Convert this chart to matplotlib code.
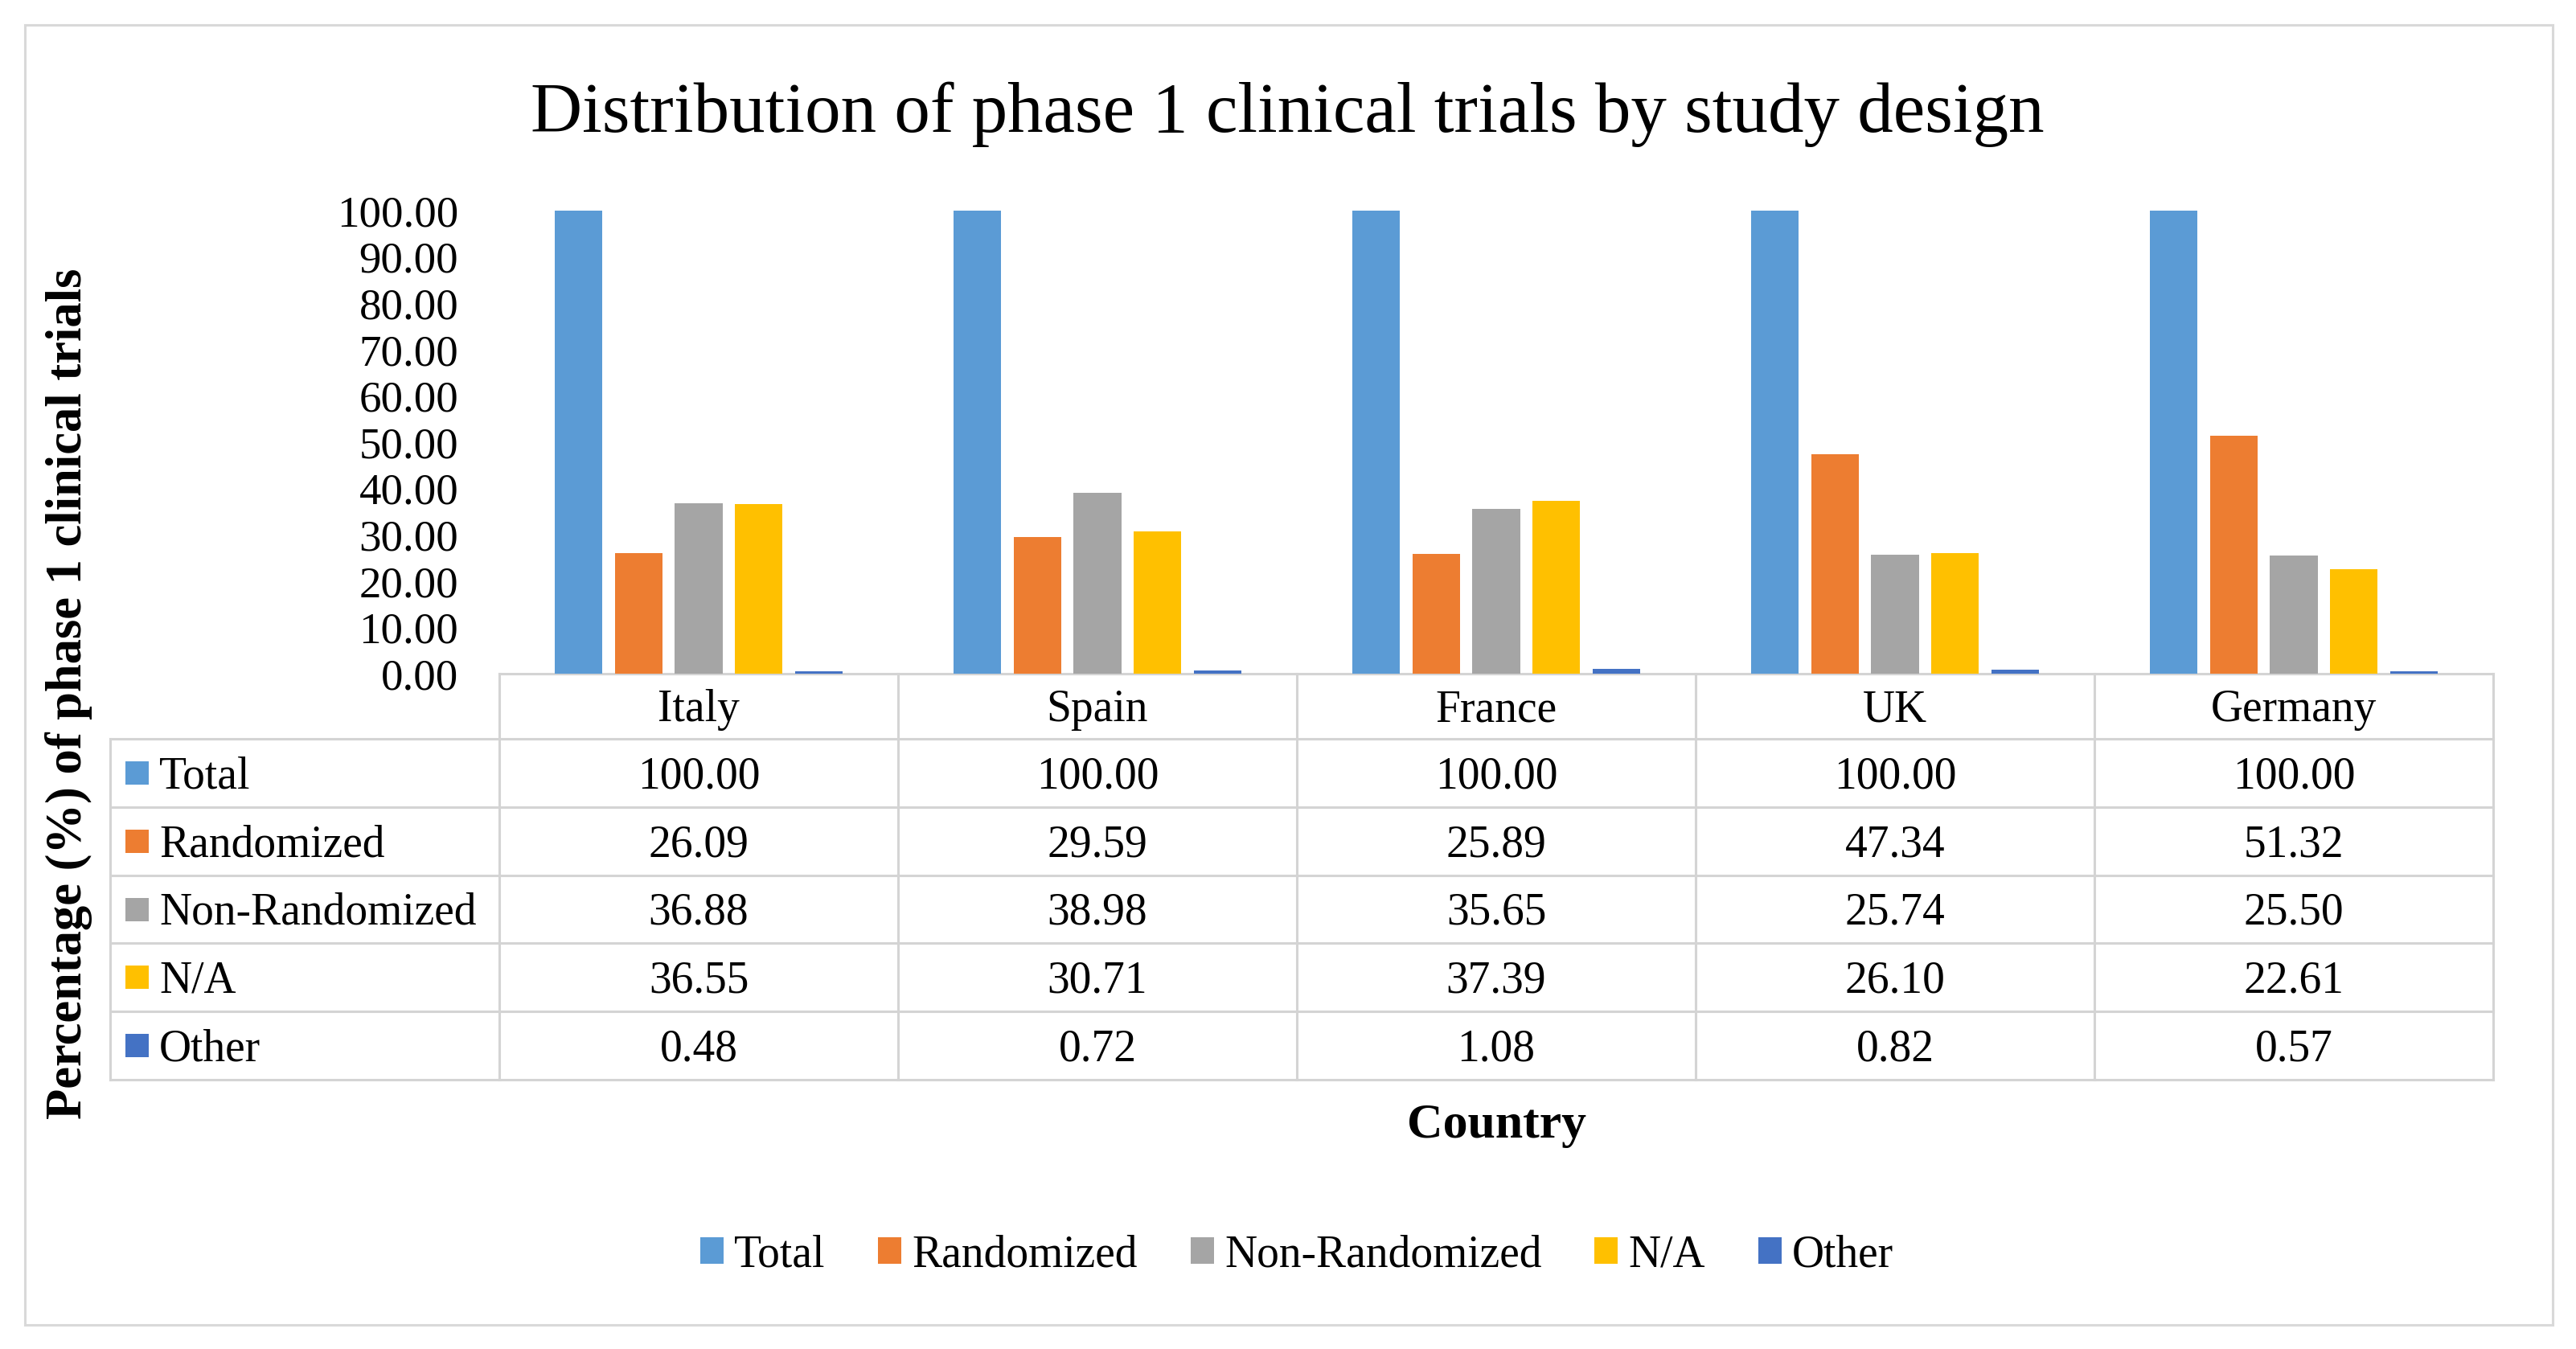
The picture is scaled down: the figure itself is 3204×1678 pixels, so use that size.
import numpy as np
import matplotlib
matplotlib.use("Agg")
import matplotlib.pyplot as plt
from matplotlib.patches import Rectangle

plt.rcParams['font.family'] = ['Liberation Serif', 'DejaVu Serif']

# data
countries = ["Italy", "Spain", "France", "UK", "Germany"]
series_names = ["Total", "Randomized", "Non-Randomized", "N/A", "Other"]
total = [100.00, 100.00, 100.00, 100.00, 100.00]
randomized = [26.09, 29.59, 25.89, 47.34, 51.32]
non_randomized = [36.88, 38.98, 35.65, 25.74, 25.50]
not_available = [36.55, 30.71, 37.39, 26.10, 22.61]
other = [0.48, 0.72, 1.08, 0.82, 0.57]
yticks = [0, 10, 20, 30, 40, 50, 60, 70, 80, 90, 100]

colors = ["#5B9BD5", "#ED7D31", "#A5A5A5", "#FFC000", "#4472C4"]
series = [total, randomized, non_randomized, not_available, other]

W, H = 3205, 1678
DPI = 100
fig = plt.figure(figsize=(W / DPI, H / DPI), dpi=DPI, facecolor="white")

# overlay in pixel coords (origin top-left) for border, table and labels
ov = fig.add_axes([0, 0, 1, 1], zorder=0)
ov.set_xlim(0, W)
ov.set_ylim(H, 0)
ov.axis("off")

# plot area in pixels
px_left, px_right, px_top, px_bottom = 621, 3101, 262, 838
ax = fig.add_axes([px_left / W, 1 - px_bottom / H,
                   (px_right - px_left) / W, (px_bottom - px_top) / H],
                  zorder=1)
ax.patch.set_alpha(0)

x = np.arange(len(countries))
bar_w = 0.119
step = 0.151
handles = []
for i, (name, vals) in enumerate(zip(series_names, series)):
    b = ax.bar(x + (i - 2) * step, vals, bar_w, color=colors[i], label=name)
    handles.append(b)

ax.set_xlim(-0.5, len(countries) - 0.5)
ax.set_ylim(0, 100)
ax.set_yticks(yticks)
ax.set_yticklabels([f"{v:.2f}" for v in yticks])
ax.set_xticks([])
ax.tick_params(axis="y", length=0, pad=36.5, labelsize=39.5)
for s in ax.spines.values():
    s.set_visible(False)

fs = 40
em = fs * DPI / 72
cap = 0.34 * em  # half the digit/cap height, to put text on row centres
grid_c = "#D4D4D4"
lw = 2.2

# outer chart border
ov.add_patch(Rectangle((31, 31), 3144, 1617, fill=False,
                       edgecolor="#D9D9D9", linewidth=2.2))

# title and axis titles
ov.text(1601, 164, "Distribution of phase 1 clinical trials by study design",
        ha="center", va="baseline", fontsize=64)
ov.text(86, 863, "Percentage (%) of phase 1 clinical trials", rotation=90,
        ha="center", va="center", fontsize=45, fontweight="bold")
ov.text(1862, 1415, "Country", ha="center", va="baseline",
        fontsize=44.5, fontweight="bold")

# data table under the plot
col_w = (px_right - px_left) / len(countries)
col_edges = px_left + col_w * np.arange(len(countries) + 1)
row_h = 84.8
head_bot = 919
row_edges = head_bot + row_h * np.arange(len(series_names) + 1)
label_left = 137

ov.plot([px_left, px_right], [px_bottom, px_bottom], color=grid_c, lw=lw)
for y in row_edges:
    ov.plot([label_left, px_right], [y, y], color=grid_c, lw=lw)
for xe in col_edges:
    ov.plot([xe, xe], [px_bottom, row_edges[-1]], color=grid_c, lw=lw)
ov.plot([label_left, label_left], [head_bot, row_edges[-1]], color=grid_c, lw=lw)

for j, c in enumerate(countries):
    ov.text((col_edges[j] + col_edges[j + 1]) / 2,
            (px_bottom + head_bot) / 2 + cap, c,
            ha="center", va="baseline", fontsize=fs)

for i, (name, vals) in enumerate(zip(series_names, series)):
    yc = (row_edges[i] + row_edges[i + 1]) / 2
    ov.add_patch(Rectangle((156, yc - 14.5), 29, 29, color=colors[i], lw=0))
    ov.text(198, yc + cap, name, ha="left", va="baseline", fontsize=fs)
    for j, v in enumerate(vals):
        ov.text((col_edges[j] + col_edges[j + 1]) / 2, yc + cap, f"{v:.2f}",
                ha="center", va="baseline", fontsize=fs)

# legend at the bottom
fig.legend(handles=handles, labels=series_names, loc="center",
           bbox_to_anchor=(1613 / W, 1 - 1561 / H), ncol=5, frameon=False,
           fontsize=fs, handlelength=29 / em, handleheight=29 / em,
           handletextpad=13 / em, columnspacing=66 / em, borderpad=0)

fig.savefig("out.png", dpi=DPI, facecolor="white")
